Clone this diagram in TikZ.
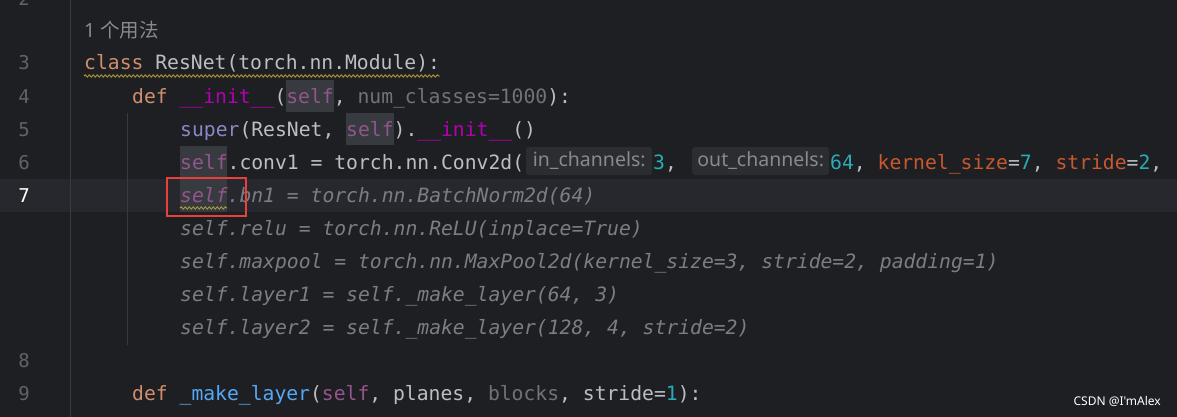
\documentclass[tikz,border=0pt]{standalone}
\usepackage{fontspec}
\setmonofont{DejaVu Sans Mono}
\newfontfamily\hintfont{Noto Sans}
\newfontfamily\cjkfont{Noto Sans CJK SC}
\usetikzlibrary{decorations.pathmorphing}
\definecolor{bg}{HTML}{1E1F22}
\definecolor{curline}{HTML}{26282E}
\definecolor{fg}{HTML}{BCBEC4}
\definecolor{kw}{HTML}{CF8E6D}
\definecolor{slf}{HTML}{94558D}
\definecolor{magic}{HTML}{B200B2}
\definecolor{bltn}{HTML}{8888C6}
\definecolor{gry}{HTML}{6F737A}
\definecolor{num}{HTML}{2AACB8}
\definecolor{narg}{HTML}{C9582E}
\definecolor{fdef}{HTML}{56A8F5}
\definecolor{dim}{HTML}{7A7E85}
\definecolor{selfbg}{HTML}{373A3E}
\definecolor{hintbg}{HTML}{2B2D30}
\definecolor{hintfg}{HTML}{868A91}
\definecolor{lnum}{HTML}{5F636A}
\definecolor{guide}{HTML}{393B40}
\definecolor{warn}{HTML}{B5A03C}
\definecolor{redbox}{HTML}{E8413A}
\tikzset{
  code/.style={anchor=base west,inner sep=0pt,text=fg,font=\ttfamily\fontsize{19.7}{22}\selectfont},
  lnr/.style={anchor=base,inner sep=0pt,text=lnum,font=\ttfamily\fontsize{19}{22}\selectfont},
  hint/.style={anchor=west,fill=hintbg,rounded corners=3pt,text=hintfg,inner sep=0pt,minimum height=28pt,font=\hintfont\fontsize{19.5}{22}\selectfont},
  selfhl/.style={fill=selfbg,draw=none},
  wavy/.style={draw=warn,line width=0.8pt,decorate,decoration={snake,amplitude=1.2pt,segment length=4pt}}
}
\newcommand{\slf}{\textcolor{slf}{self}}
\begin{document}
\begin{tikzpicture}[x=1pt,y=-1pt]
\fill[bg] (0,0) rectangle (1177,417);
\useasboundingbox (0,0) rectangle (1177,417);
\fill[curline] (0,179) rectangle (1177,212);
\draw[guide,line width=0.8pt] (70,0) -- (70,417);
\draw[guide,line width=0.8pt] (127,113) -- (127,345);
% self highlights
\fill[selfhl] (286,80) rectangle (334,112);
\fill[selfhl] (346,113) rectangle (394,145);
\fill[selfhl] (180,146) rectangle (227,178);
\fill[selfhl] (180,179) rectangle (227,212);
% line numbers
\node[lnr] (n2) at (24,6) {2};
\node[lnr] (n3) at (24,70) {3};
\node[lnr] (n4) at (24,103) {4};
\node[lnr] (n5) at (24,136) {5};
\node[lnr] (n6) at (24,169) {6};
\node[lnr,text=white] (n7) at (24,202) {7};
\node[lnr] (n8) at (24,367) {8};
\node[lnr] (n9) at (24,400) {9};
% code
\node[anchor=base west,inner sep=0pt,text=hintfg,font=\hintfont\fontsize{19.5}{22}\selectfont] (use) at (84,38) {1 {\cjkfont 个用法}};
\node[code] (l3) at (84,70) {\textcolor{kw}{class} ResNet(torch.nn.Module):};
\node[code] (l4) at (132,103) {\textcolor{kw}{def} \textcolor{magic}{\_\_init\_\_}(\slf, \textcolor{gry}{num\_classes=1000}):};
\node[code] (l5) at (180,136) {\textcolor{bltn}{super}(ResNet, \slf).\textcolor{magic}{\_\_init\_\_}()};
\node[code] (l6a) at (180,169) {\slf.conv1 = torch.nn.Conv2d(};
\node[hint,minimum width=126pt] (h1) at (526,161) {in\_channels:};
\node[code] (l6b) at (653,169) {\textcolor{num}{3},};
\node[hint,minimum width=137pt] (h2) at (692,161) {out\_channels:};
\node[code] (l6c) at (830,169) {\textcolor{num}{64}, \textcolor{narg}{kernel\_size}=\textcolor{num}{7}, \textcolor{narg}{stride}=\textcolor{num}{2},};
\node[code,font=\ttfamily\itshape\fontsize{19.7}{22}\selectfont,text=dim] (l7) at (180,202) {\slf.bn1 = torch.nn.BatchNorm2d(64)};
\node[code,font=\ttfamily\itshape\fontsize{19.7}{22}\selectfont,text=dim] (l8) at (180,235) {self.relu = torch.nn.ReLU(inplace=True)};
\node[code,font=\ttfamily\itshape\fontsize{19.7}{22}\selectfont,text=dim] (l9) at (180,268) {self.maxpool = torch.nn.MaxPool2d(kernel\_size=3, stride=2, padding=1)};
\node[code,font=\ttfamily\itshape\fontsize{19.7}{22}\selectfont,text=dim] (l10) at (180,301) {self.layer1 = self.\_make\_layer(64, 3)};
\node[code,font=\ttfamily\itshape\fontsize{19.7}{22}\selectfont,text=dim] (l11) at (180,334) {self.layer2 = self.\_make\_layer(128, 4, stride=2)};
\node[code] (l12) at (132,400) {\textcolor{kw}{def} \textcolor{fdef}{\_make\_layer}(\slf, planes, \textcolor{gry}{blocks}, stride=\textcolor{num}{1}):};
% warnings
\draw[wavy] (84,76) -- (440,76);
\draw[wavy] (180,208) -- (227,208);
% red box
\draw[redbox,line width=2pt] (167,178) rectangle (246,216);
% watermark
\node[anchor=base east,inner sep=0pt,text=white,font=\hintfont\fontsize{12}{14}\selectfont] (wm) at (1161,405) {CSDN @I'mAlex};
\end{tikzpicture}
\end{document}
